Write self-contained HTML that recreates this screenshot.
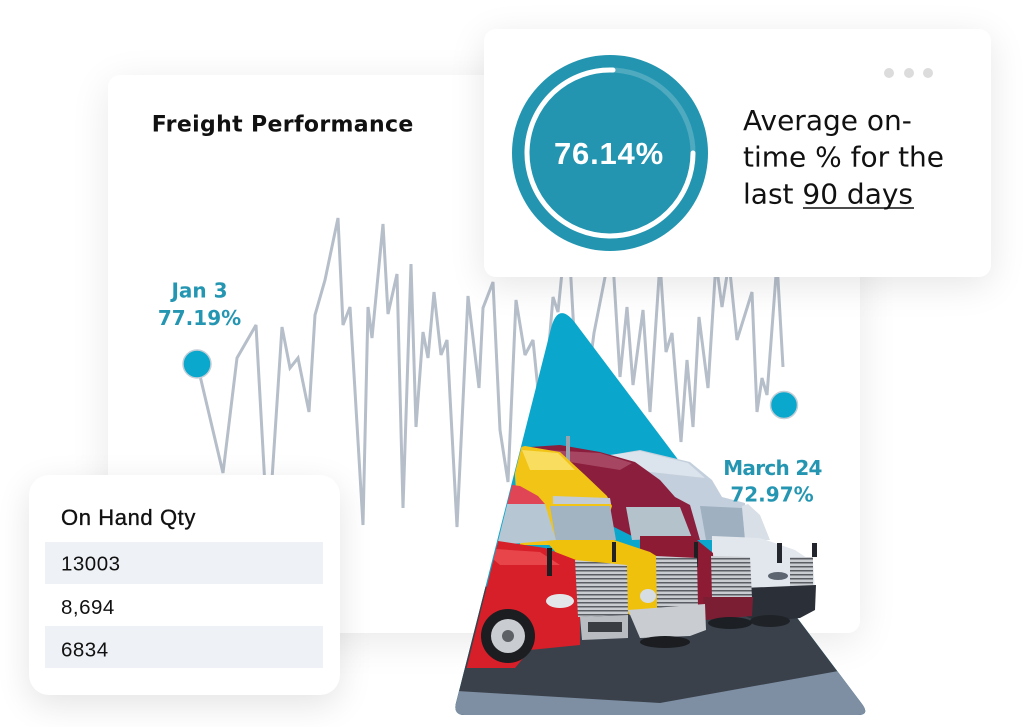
<!DOCTYPE html>
<html><head><meta charset="utf-8">
<style>
html,body{margin:0;padding:0;background:#fff;}
body{width:1024px;height:727px;position:relative;overflow:hidden;}
.card{position:absolute;background:#fff;}
svg.l{position:absolute;left:0;top:0;}
</style></head><body>

<div class="card" style="left:108px;top:75px;width:752px;height:558px;border-radius:12px;box-shadow:0 8px 40px rgba(0,0,0,0.09);z-index:1"></div>

<svg class="l" width="1024" height="727" style="z-index:2">
  <text x="151.7" y="131.7" font-family="DejaVu Sans, sans-serif" font-weight="bold" font-size="22" letter-spacing="0.35" fill="#111">Freight Performance</text>
  <polyline fill="none" stroke="#b5bec9" stroke-width="3" stroke-linejoin="miter" stroke-miterlimit="3"
   points="197,363 223,473 237,358 256,325 268,540 282,327 290,368 298,358 309,412 315,315 325,280 338,218 343,325 350,307 363,525 368,307 372,338 383,224 388,314 397,274 403,508 411,264 416,427 423,332 428,358 434,292 441,355 447,340 457,527 468,296 479,388 483,308 493,282 500,430 508,482 516,300 525,355 533,340 542,430 553,297 558,312 563,262 570,262 580,440 594,333 608,262 613,262 620,377 627,307 633,385 643,310 650,412 660,262 666,352 672,333 681,442 687,360 693,427 699,317 708,388 716,262 722,307 729,262 737,340 752,292 757,412 762,378 767,395 777,262 783,367"/>
  <circle cx="197" cy="364" r="14" fill="#0aa8cd" stroke="#c3ced6" stroke-width="1.5"/>
  <circle cx="784" cy="405" r="13.5" fill="#0aa8cd" stroke="#c3ced6" stroke-width="1.5"/>
  <g font-family="DejaVu Sans, sans-serif" font-weight="bold" font-size="20" fill="#2596b2" text-anchor="middle">
    <text x="199.5" y="297.3">Jan 3</text>
    <text x="199.5" y="325">77.19%</text>
  </g>
</svg>

<div class="card" style="left:484px;top:29px;width:507px;height:248px;border-radius:12px;box-shadow:0 8px 36px rgba(0,0,0,0.10);z-index:3"></div>

<svg class="l" width="1024" height="727" style="z-index:4">
  <circle cx="610" cy="153" r="98" fill="#2395b0"/>
  <circle cx="610" cy="153" r="83" fill="none" stroke="rgba(255,255,255,0.2)" stroke-width="5"/>
  <path d="M613 70.05 A83 83 0 1 0 693 153" fill="none" stroke="#fff" stroke-width="5" stroke-linecap="round"/>
  <text x="609" y="164" text-anchor="middle" font-family="Liberation Sans, sans-serif" font-weight="bold" font-size="31" letter-spacing="0.8" fill="#fff">76.14%</text>
  <circle cx="889" cy="73" r="5" fill="#dcdcdc"/>
  <circle cx="909" cy="73" r="5" fill="#dcdcdc"/>
  <circle cx="928" cy="73" r="5" fill="#dcdcdc"/>
  <g font-family="DejaVu Sans, sans-serif" font-size="28" fill="#111">
    <text x="743" y="130">Average on-</text>
    <text x="743" y="166.7">time % for the</text>
    <text x="743" y="203.3">last 90 days</text>
  </g>
  <line x1="803" y1="208" x2="914" y2="208" stroke="#111" stroke-width="1.5"/>
</svg>

<div class="card" style="left:29px;top:475px;width:311px;height:220px;border-radius:20px;box-shadow:0 10px 34px rgba(0,0,0,0.11);z-index:5"></div>

<svg class="l" width="1024" height="727" style="z-index:6">
  <rect x="45" y="542" width="278" height="42" fill="#eef1f5"/>
  <rect x="45" y="626" width="278" height="42" fill="#eef1f5"/>
  <g font-family="Liberation Sans, sans-serif" fill="#111">
    <text x="61" y="525" font-size="22" letter-spacing="0.6" stroke="#111" stroke-width="0.35">On Hand Qty</text>
    <text x="61" y="570.7" font-size="20.5" letter-spacing="0.5">13003</text>
    <text x="61" y="614" font-size="20.5" letter-spacing="0.5">8,694</text>
    <text x="61" y="656.7" font-size="20.5" letter-spacing="0.5">6834</text>
  </g>
</svg>

<svg class="l" width="1024" height="727" style="z-index:7">
  <defs>
    <clipPath id="tri"><path d="M550.8 329.1 Q558 300 576 324 L862 704 Q870 715 858 715 L465 715 Q453 715 456 703 Z"/></clipPath>
    <clipPath id="trk"><polygon points="538,380 1000,380 1000,715 455,715"/></clipPath>
    <pattern id="sl" width="4" height="4" patternUnits="userSpaceOnUse"><rect width="4" height="4" fill="#c9cdd1"/><rect y="2" width="4" height="1.5" fill="#5a5e64"/></pattern>
  </defs>
  <path d="M550.8 329.1 Q558 300 576 324 L862 704 Q870 715 858 715 L465 715 Q453 715 456 703 Z" fill="#0aa6cc"/>
  <g clip-path="url(#tri)">
    <polygon points="440,585 900,600 900,720 440,720" fill="#3a414b"/>
    <polygon points="440,690 660,703 900,660 900,720 440,720" fill="#7e8fa4"/>
  </g>
  <g clip-path="url(#trk)">
    <!-- silver truck -->
    <polygon points="605,456 640,450 690,462 712,480 722,497 745,503 748,540 700,540 640,520 605,500" fill="#c3cfdc"/>
    <polygon points="610,455 640,451 688,463 705,478 650,472" fill="#dbe3ec"/>
    <polygon points="700,506 742,508 745,538 706,540" fill="#9fb0c0"/>
    <polygon points="742,506 748,504 760,515 770,540 745,540" fill="#d8dfe7"/>
    <polygon points="712,536 760,538 795,550 813,562 815,590 745,592 712,585" fill="#e2e7ed"/>
    <rect x="790" y="557" width="23" height="30" fill="url(#sl)"/>
    <polygon points="742,588 816,585 815,610 800,618 760,622 742,615" fill="#2b3038"/>
    <ellipse cx="778" cy="576" rx="10" ry="4" fill="#5d6570"/>
    <rect x="777" y="543" width="5" height="20" fill="#23272d"/>
    <rect x="812" y="543" width="5" height="14" fill="#23272d"/>
    <ellipse cx="770" cy="621" rx="20" ry="6" fill="#1f2328"/>
    <!-- maroon truck -->
    <polygon points="530,447 560,445 600,452 635,462 660,480 675,497 690,505 700,540 640,540 600,520 545,490" fill="#8a1e3c"/>
    <polygon points="545,450 600,453 632,463 620,470 570,462" fill="#a64663"/>
    <polygon points="626,507 680,507 692,538 632,540" fill="#b4c2cc"/>
    <polygon points="640,536 692,536 713,553 715,598 700,612 660,610 640,600" fill="#8e1b34"/>
    <polygon points="711,556 750,557 752,598 712,598" fill="url(#sl)"/>
    <polygon points="703,597 753,597 752,616 705,620" fill="#7c1e33"/>
    <rect x="694" y="542" width="4" height="25" fill="#1f1f22"/>
    <ellipse cx="730" cy="623" rx="22" ry="6" fill="#1c1f24"/>
    <rect x="566" y="436" width="4" height="30" fill="#9aa3ad"/>
    <!-- yellow truck -->
    <polygon points="513,449 525,446 560,452 585,475 607,496 612,506 600,545 520,545" fill="#f1c416"/>
    <polygon points="522,450 558,453 575,470 530,470" fill="#f8dd5e"/>
    <polygon points="553,496 610,498 611,504 553,504" fill="#c3ccd5"/>
    <polygon points="550,506 610,506 616,540 556,542" fill="#a2b4c2"/>
    <polygon points="545,540 614,540 650,552 658,557 658,612 630,615 580,580" fill="#efc00c"/>
    <polygon points="656,556 697,558 698,607 657,609" fill="url(#sl)"/>
    <polygon points="628,610 705,604 706,630 690,636 640,638" fill="#c9cdd2"/>
    <ellipse cx="648" cy="596" rx="8" ry="7" fill="#d6dde3"/>
    <rect x="612" y="542" width="4" height="20" fill="#222"/>
    <ellipse cx="665" cy="642" rx="25" ry="6" fill="#1b1d21"/>
    <!-- red truck -->
    <polygon points="505,484 520,486 538,496 545,504 498,506" fill="#e04555"/>
    <polygon points="492,504 545,504 556,540 488,546" fill="#b6c6d3"/>
    <polygon points="460,545 498,541 545,548 576,560 580,618 580,645 530,650 515,668 460,668" fill="#d61f28"/>
    <polygon points="480,548 540,552 560,565 500,565" fill="#e8454b"/>
    <polygon points="575,560 627,565 628,615 578,617" fill="url(#sl)"/>
    <polygon points="580,617 628,615 628,638 582,640" fill="#b9bdc2"/>
    <rect x="588" y="622" width="34" height="10" fill="#3a3d42"/>
    <ellipse cx="560" cy="601" rx="14" ry="7" fill="#e3e7ea"/>
    <rect x="547" y="548" width="5" height="28" fill="#1e1e20"/>
    <circle cx="508" cy="636" r="27" fill="#1c1d20"/>
    <circle cx="508" cy="636" r="17" fill="#c9cdd2"/>
    <circle cx="508" cy="636" r="6" fill="#5d6166"/>
  </g>
  <g font-family="DejaVu Sans, sans-serif" font-weight="bold" font-size="20" fill="#2596b2" text-anchor="middle">
    <text x="772.5" y="475" letter-spacing="-0.7">March 24</text>
    <text x="772" y="501.7">72.97%</text>
  </g>
</svg>

</body></html>
